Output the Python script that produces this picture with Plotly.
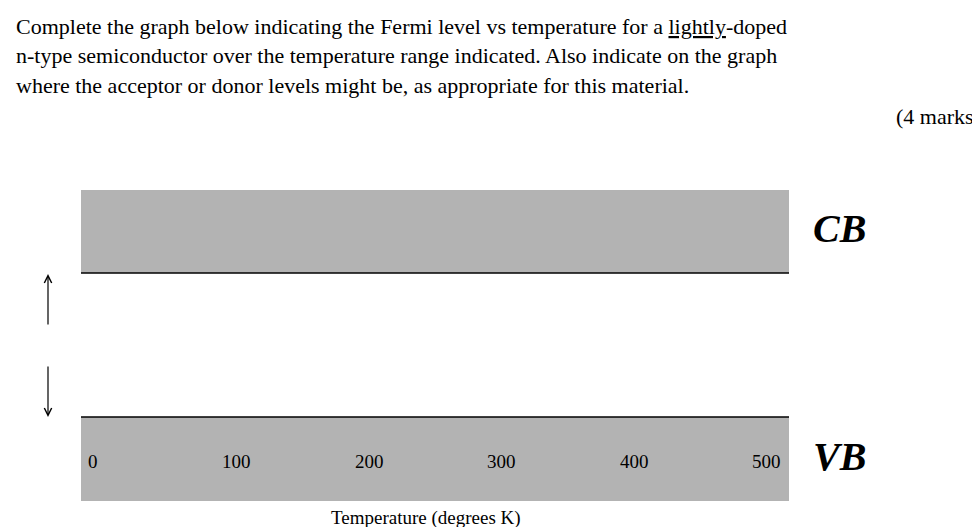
import plotly.graph_objects as go

question_lines = [
    "Complete the graph below indicating the Fermi level vs temperature for a <u>lightly</u>-doped",
    "n-type semiconductor over the temperature range indicated. Also indicate on the graph",
    "where the acceptor or donor levels might be, as appropriate for this material.",
]
marks = "(4 marks)"
tick_values = [0, 100, 200, 300, 400, 500]
x_title = "Temperature (degrees K)"
band_labels = ["CB", "VB"]

W, H = 980, 527
FONT = "Liberation Serif"
# temperature axis: 0 K at px 96, 132.5 px per 100 K; bands span px 73..781
px0, k = 96.0, 1.325
xmin, xmax = (73 - px0) / k, (781 - px0) / k
dom = (73 / W, 781 / W)

fig = go.Figure()
fig.add_trace(go.Scatter(x=[xmin, xmax], y=[0, 0], mode="markers", marker=dict(opacity=0), hoverinfo="skip", showlegend=False))

def py(p):  # pixel y -> paper
    return 1 - p / H

shapes = [
    dict(type="rect", xref="x", yref="paper", x0=xmin, x1=xmax, y0=py(265), y1=py(182), fillcolor="#b3b3b3", line_width=0),
    dict(type="rect", xref="x", yref="paper", x0=xmin, x1=xmax, y0=py(493), y1=py(409), fillcolor="#b3b3b3", line_width=0),
    dict(type="line", xref="x", yref="paper", x0=xmin, x1=xmax, y0=py(265), y1=py(265), line=dict(color="black", width=1.5)),
    dict(type="line", xref="x", yref="paper", x0=xmin, x1=xmax, y0=py(409), y1=py(409), line=dict(color="black", width=1.5)),
]

ann = []
for i, line in enumerate(question_lines):
    ann.append(dict(text=line, xref="paper", yref="paper", x=6 / W, y=py(18 + 30 * i), xanchor="left", yanchor="middle",
                    showarrow=False, font=dict(family=FONT, size=22, color="black")))
ann.append(dict(text=marks, xref="paper", yref="paper", x=975 / W, y=py(108), xanchor="right", yanchor="middle",
                showarrow=False, font=dict(family=FONT, size=22, color="black")))
for t in tick_values:
    ann.append(dict(text=str(t), xref="x", yref="paper", x=t, y=py(453), xanchor="center", yanchor="middle",
                    xshift=-11 if t == 0 else 0, showarrow=False, font=dict(family=FONT, size=19, color="black")))
ann.append(dict(text=x_title, xref="paper", yref="paper", x=418 / W, y=py(510), xanchor="center", yanchor="middle",
                showarrow=False, font=dict(family=FONT, size=19, color="black")))
for lab, yc in zip(band_labels, [220, 448]):
    ann.append(dict(text="<b><i>" + lab + "</i></b>", xref="paper", yref="paper", x=803 / W, y=py(yc), xanchor="left",
                    yanchor="middle", showarrow=False, font=dict(family=FONT, size=40, color="black")))
# arrows
ann.append(dict(x=40 / W, y=py(266), ax=0, ay=52, xref="paper", yref="paper", axref="pixel", ayref="pixel",
                text="", showarrow=True, arrowhead=5, arrowsize=1.2, arrowwidth=1.2, arrowcolor="black"))
ann.append(dict(x=40 / W, y=py(409), ax=0, ay=-52, xref="paper", yref="paper", axref="pixel", ayref="pixel",
                text="", showarrow=True, arrowhead=5, arrowsize=1.2, arrowwidth=1.2, arrowcolor="black"))

fig.update_layout(width=W, height=H, margin=dict(l=0, r=0, t=0, b=0), paper_bgcolor="white", plot_bgcolor="white",
                  xaxis=dict(range=[xmin, xmax], domain=list(dom), visible=False, fixedrange=True),
                  yaxis=dict(range=[0, 1], visible=False, fixedrange=True),
                  shapes=shapes, annotations=ann)
fig.write_html("out.html")
